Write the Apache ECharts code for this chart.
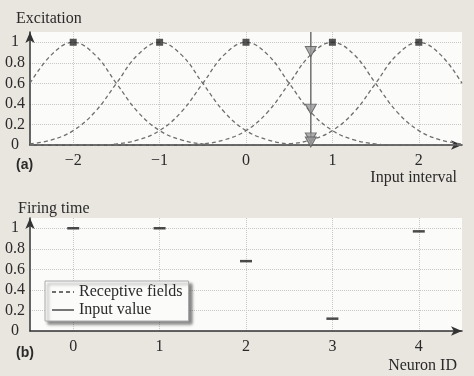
<!DOCTYPE html>
<html>
<head>
<meta charset="utf-8">
<script src="https://cdn.jsdelivr.net/npm/echarts@6/dist/echarts.min.js"></script>
<style>
  html, body { margin: 0; padding: 0; background: #e9e6df; }
  #chart { width: 474px; height: 376px; }
</style>
</head>
<body>
<div id="chart"></div>
<script>
// input interval samples for panel (a)
const inputX = [-2.5, -2.25, -2, -1.75, -1.5, -1.25, -1, -0.75, -0.5, -0.25, 0,
                0.25, 0.5, 0.75, 1, 1.25, 1.5, 1.75, 2, 2.25, 2.5]

// receptive field excitation, one per neuron centre
const fieldCentres = [-2, -1, 0, 1, 2]
const field0 = [0.60, 0.88, 1, 0.88, 0.60, 0.32, 0.14, 0.05, 0.01, 0, 0, 0, 0, 0, 0, 0, 0, 0, 0, 0, 0]
const field1 = [0.01, 0.05, 0.14, 0.32, 0.60, 0.88, 1, 0.88, 0.60, 0.32, 0.14, 0.05, 0.01, 0, 0, 0, 0, 0, 0, 0, 0]
const field2 = [0, 0, 0, 0, 0.01, 0.05, 0.14, 0.32, 0.60, 0.88, 1, 0.88, 0.60, 0.32, 0.14, 0.05, 0.01, 0, 0, 0, 0]
const field3 = [0, 0, 0, 0, 0, 0, 0, 0, 0.01, 0.05, 0.14, 0.32, 0.60, 0.88, 1, 0.88, 0.60, 0.32, 0.14, 0.05, 0.01]
const field4 = [0, 0, 0, 0, 0, 0, 0, 0, 0, 0, 0, 0, 0.01, 0.05, 0.14, 0.32, 0.60, 0.88, 1, 0.88, 0.60]
const fields = [field0, field1, field2, field3, field4]

// input value and where it hits the fields
const inputValue = 0.75
const hitValues = [0.88, 0.32, 0.04, 0.0]

// panel (b)
const neuronIds = [0, 1, 2, 3, 4]
const firingTimes = [1, 1, 0.68, 0.12, 0.97]

const ticksA = [-2, -1, 0, 1, 2]
const ticksY = [0, 0.2, 0.4, 0.6, 0.8, 1]

const serif = 'Liberation Serif'
const ink = '#2a2a2a'

function xAxisDef(idx, min, max, ticks) {
    return {
        type: 'value', gridIndex: idx, min: min, max: max,
        axisLine: { onZero: false, lineStyle: { color: '#333', width: 1.5 }, symbol: ['none', 'arrow'], symbolSize: [7, 11] },
        axisTick: { show: false, customValues: ticks },
        axisLabel: {
            customValues: ticks, color: ink, fontFamily: serif, fontSize: 16, margin: 8,
            formatter: v => String(v).replace('-', '\u2212')
        },
        splitLine: { show: true, lineStyle: { color: '#c8c8c8', type: 'dotted' } }
    }
}

function yAxisDef(idx) {
    return {
        type: 'value', gridIndex: idx, min: 0, max: 1.1,
        axisLine: { show: true, onZero: false, lineStyle: { color: '#333', width: 1.5 }, symbol: ['none', 'arrow'], symbolSize: [7, 11] },
        axisTick: { show: false, customValues: ticksY },
        axisLabel: { customValues: ticksY, color: ink, fontFamily: serif, fontSize: 16, margin: 15, align: 'center' },
        splitLine: { show: true, lineStyle: { color: '#c8c8c8', type: 'dotted' } }
    }
}

let series = fields.map(f => ({
    name: 'Receptive fields',
    type: 'line', xAxisIndex: 0, yAxisIndex: 0,
    data: inputX.map((x, i) => [x, f[i]]),
    smooth: 0.4, symbol: 'none',
    itemStyle: { color: '#6e6e6e' },
    lineStyle: { color: '#6e6e6e', width: 1.3, type: [4, 3] },
    z: 2
}))

series.push({
    name: 'peaks', type: 'scatter', xAxisIndex: 0, yAxisIndex: 0,
    data: fieldCentres.map(c => [c, 1]),
    symbol: 'rect', symbolSize: 7,
    itemStyle: { color: '#2b2b2b' }, z: 4
})

series.push({
    name: 'Input value', type: 'line', xAxisIndex: 0, yAxisIndex: 0,
    data: [[inputValue, 0], [inputValue, 1.1]],
    symbol: 'none',
    itemStyle: { color: '#777' },
    lineStyle: { color: '#777', width: 1.6 }, z: 3
})

series.push({
    name: 'hits', type: 'scatter', xAxisIndex: 0, yAxisIndex: 0,
    data: hitValues.map(v => [inputValue, v]),
    symbol: 'triangle', symbolRotate: 180, symbolSize: [11, 10], symbolOffset: [0, -3],
    itemStyle: { color: '#9a9a9a', borderColor: '#555', borderWidth: 1 }, z: 5
})

series.push({
    name: 'Firing time', type: 'scatter', xAxisIndex: 1, yAxisIndex: 1,
    data: neuronIds.map((n, i) => [n, firingTimes[i]]),
    symbol: 'rect', symbolSize: [12, 2.5],
    itemStyle: { color: '#1e1e1e' }, z: 4
})

const option = {
    backgroundColor: '#e9e6df',
    animation: false,
    title: [
        { text: 'Excitation', left: 11, top: 6, textStyle: { fontFamily: serif, fontSize: 16, fontWeight: 'normal', color: ink } },
        { text: '(a)', left: 11, top: 153, textStyle: { fontFamily: 'Liberation Sans', fontSize: 14, fontWeight: 'bold', color: ink } },
        { text: 'Input interval', right: 12, top: 165, textStyle: { fontFamily: serif, fontSize: 16, fontWeight: 'normal', color: ink } },
        { text: 'Firing time', left: 13, top: 196, textStyle: { fontFamily: serif, fontSize: 16, fontWeight: 'normal', color: ink } },
        { text: '(b)', left: 11, top: 341, textStyle: { fontFamily: 'Liberation Sans', fontSize: 14, fontWeight: 'bold', color: ink } },
        { text: 'Neuron ID', right: 12, top: 353, textStyle: { fontFamily: serif, fontSize: 16, fontWeight: 'normal', color: ink } }
    ],
    legend: {
        data: [
            { name: 'Receptive fields', itemStyle: { opacity: 0 } },
            { name: 'Input value', itemStyle: { opacity: 0 } }
        ],
        orient: 'vertical', left: 45, top: 281,
        itemWidth: 22, itemHeight: 10, itemGap: 2,
        padding: [3, 6, 3, 6],
        backgroundColor: '#fbfbfa', borderColor: '#aaa', borderWidth: 1,
        shadowColor: 'rgba(0,0,0,0.45)', shadowBlur: 3, shadowOffsetX: 3, shadowOffsetY: 3,
        textStyle: { fontFamily: serif, fontSize: 16, color: ink },
        selectedMode: false
    },
    grid: [
        { left: 30, right: 12, top: 32, height: 113, show: true, backgroundColor: '#fbfbfa', borderWidth: 0 },
        { left: 30, right: 12, top: 218, height: 113, show: true, backgroundColor: '#fbfbfa', borderWidth: 0 }
    ],
    xAxis: [
        xAxisDef(0, -2.5, 2.5, ticksA),
        xAxisDef(1, -0.5, 4.5, neuronIds)
    ],
    yAxis: [yAxisDef(0), yAxisDef(1)],
    series: series
}

let mychart = echarts.init(document.getElementById('chart'))
mychart.setOption(option)
</script>
</body>
</html>
